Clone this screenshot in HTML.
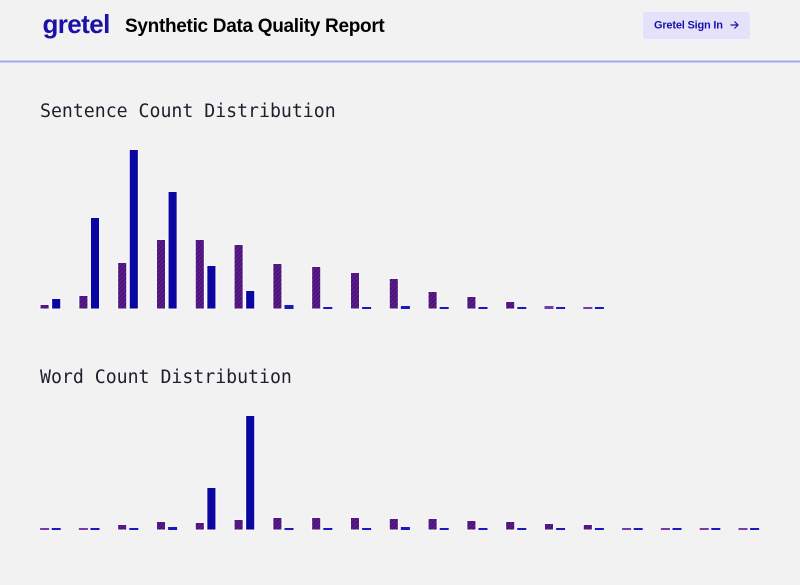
<!DOCTYPE html>
<html>
<head>
<meta charset="utf-8">
<style>
  html, body { margin: 0; padding: 0; background: #f2f2f2; }
  body { width: 800px; height: 585px; overflow: hidden; }
  svg { display: block; }
  .p { fill: url(#hatch); stroke: #ffffff; stroke-width: 0.9; }
  .b { fill: #0a06a0; stroke: #ffffff; stroke-width: 0.9; }
  .pt { fill: #7a3aa8; }
  .bt { fill: #1c18c0; }
  .mono { font-family: "DejaVu Sans Mono", "Liberation Mono", monospace; font-size: 18.2px; fill: #1f1f2c; }
</style>
</head>
<body>
<svg width="800" height="585" viewBox="0 0 800 585" xmlns="http://www.w3.org/2000/svg">
  <defs>
    <pattern id="hatch" width="3" height="3" patternUnits="userSpaceOnUse" patternTransform="rotate(45)">
      <rect width="3" height="3" fill="#5e1f8e"/>
      <rect width="1.2" height="3" fill="#420f70"/>
    </pattern>
  </defs>
  <rect width="800" height="585" fill="#f2f2f2"/>

  <!-- Header -->
  <text x="42.5" y="33" font-family="Liberation Sans, Arial, sans-serif" font-size="26" font-weight="bold" fill="#1a12a8" letter-spacing="-0.6">gretel</text>
  <text x="125" y="32" font-family="Liberation Sans, Arial, sans-serif" font-size="19" font-weight="bold" fill="#000" letter-spacing="-0.3">Synthetic Data Quality Report</text>
  <rect x="643" y="12" width="107" height="27" rx="3" fill="#e4e2fa"/>
  <text x="654" y="28.5" font-family="Liberation Sans, Arial, sans-serif" font-size="11" font-weight="bold" fill="#1a12a8" letter-spacing="-0.2">Gretel Sign In</text>
  <path d="M730.5 25 H738 M734.5 21.5 L738 25 L734.5 28.5" stroke="#1a12a8" stroke-width="1.2" fill="none"/>
  <rect x="0" y="60.5" width="800" height="2" fill="#a3a8f2"/>

  <!-- Titles -->
  <text x="40" y="117" class="mono">Sentence Count Distribution</text>
  <text x="40" y="383" class="mono">Word Count Distribution</text>

  <!-- Chart 1 (baseline 309) purple -->
  <rect class="p" x="40.1" y="304.5" width="9" height="4.5"/>
  <rect class="p" x="78.9" y="295.5" width="9" height="13.5"/>
  <rect class="p" x="117.7" y="262.5" width="9" height="46.5"/>
  <rect class="p" x="156.5" y="239.5" width="9" height="69.5"/>
  <rect class="p" x="195.3" y="239.5" width="9" height="69.5"/>
  <rect class="p" x="234.1" y="244.5" width="9" height="64.5"/>
  <rect class="p" x="272.9" y="263.5" width="9" height="45.5"/>
  <rect class="p" x="311.7" y="266.5" width="9" height="42.5"/>
  <rect class="p" x="350.5" y="272.5" width="9" height="36.5"/>
  <rect class="p" x="389.3" y="278.5" width="9" height="30.5"/>
  <rect class="p" x="428.1" y="291.5" width="9" height="17.5"/>
  <rect class="p" x="466.9" y="296.5" width="9" height="12.5"/>
  <rect class="p" x="505.7" y="301.5" width="9" height="7.5"/>
  <rect class="pt" x="544.5" y="306" width="9" height="3"/>
  <rect class="pt" x="583.3" y="307" width="9" height="2"/>

  <!-- Chart 1 blue -->
  <rect class="b" x="51.7" y="298.5" width="9" height="10.5"/>
  <rect class="b" x="90.5" y="217.5" width="9" height="91.5"/>
  <rect class="b" x="129.3" y="149.5" width="9" height="159.5"/>
  <rect class="b" x="168.1" y="191.5" width="9" height="117.5"/>
  <rect class="b" x="206.9" y="265.5" width="9" height="43.5"/>
  <rect class="b" x="245.7" y="290.5" width="9" height="18.5"/>
  <rect class="bt" x="284.5" y="305" width="9" height="4"/>
  <rect class="bt" x="323.3" y="307" width="9" height="2"/>
  <rect class="bt" x="362.1" y="307" width="9" height="2"/>
  <rect class="bt" x="400.9" y="306" width="9" height="3"/>
  <rect class="bt" x="439.7" y="307" width="9" height="2"/>
  <rect class="bt" x="478.5" y="307" width="9" height="2"/>
  <rect class="bt" x="517.3" y="307" width="9" height="2"/>
  <rect class="bt" x="556.1" y="307" width="9" height="2"/>
  <rect class="bt" x="594.9" y="307" width="9" height="2"/>

  <!-- Chart 2 (baseline 530) purple -->
  <rect class="pt" x="40.1" y="528" width="9" height="2"/>
  <rect class="pt" x="78.9" y="528" width="9" height="2"/>
  <rect class="p" x="117.7" y="524.5" width="9" height="5.5"/>
  <rect class="p" x="156.5" y="521.5" width="9" height="8.5"/>
  <rect class="p" x="195.3" y="522.5" width="9" height="7.5"/>
  <rect class="p" x="234.1" y="519.5" width="9" height="10.5"/>
  <rect class="p" x="272.9" y="517.5" width="9" height="12.5"/>
  <rect class="p" x="311.7" y="517.5" width="9" height="12.5"/>
  <rect class="p" x="350.5" y="517.5" width="9" height="12.5"/>
  <rect class="p" x="389.3" y="518.5" width="9" height="11.5"/>
  <rect class="p" x="428.1" y="518.5" width="9" height="11.5"/>
  <rect class="p" x="466.9" y="520.5" width="9" height="9.5"/>
  <rect class="p" x="505.7" y="521.5" width="9" height="8.5"/>
  <rect class="p" x="544.5" y="523.5" width="9" height="6.5"/>
  <rect class="p" x="583.3" y="524.5" width="9" height="5.5"/>
  <rect class="pt" x="622.1" y="528" width="9" height="2"/>
  <rect class="pt" x="660.9" y="528" width="9" height="2"/>
  <rect class="pt" x="699.7" y="528" width="9" height="2"/>
  <rect class="pt" x="738.5" y="528" width="9" height="2"/>

  <!-- Chart 2 blue -->
  <rect class="bt" x="51.7" y="528" width="9" height="2"/>
  <rect class="bt" x="90.5" y="528" width="9" height="2"/>
  <rect class="bt" x="129.3" y="528" width="9" height="2"/>
  <rect class="bt" x="168.1" y="527" width="9" height="3"/>
  <rect class="b" x="206.9" y="487.5" width="9" height="42.5"/>
  <rect class="b" x="245.7" y="415.5" width="9" height="114.5"/>
  <rect class="bt" x="284.5" y="528" width="9" height="2"/>
  <rect class="bt" x="323.3" y="528" width="9" height="2"/>
  <rect class="bt" x="362.1" y="528" width="9" height="2"/>
  <rect class="bt" x="400.9" y="527" width="9" height="3"/>
  <rect class="bt" x="439.7" y="528" width="9" height="2"/>
  <rect class="bt" x="478.5" y="528" width="9" height="2"/>
  <rect class="bt" x="517.3" y="528" width="9" height="2"/>
  <rect class="bt" x="556.1" y="528" width="9" height="2"/>
  <rect class="bt" x="594.9" y="528" width="9" height="2"/>
  <rect class="bt" x="633.7" y="528" width="9" height="2"/>
  <rect class="bt" x="672.5" y="528" width="9" height="2"/>
  <rect class="bt" x="711.3" y="528" width="9" height="2"/>
  <rect class="bt" x="750.1" y="528" width="9" height="2"/>
</svg>
</body>
</html>
